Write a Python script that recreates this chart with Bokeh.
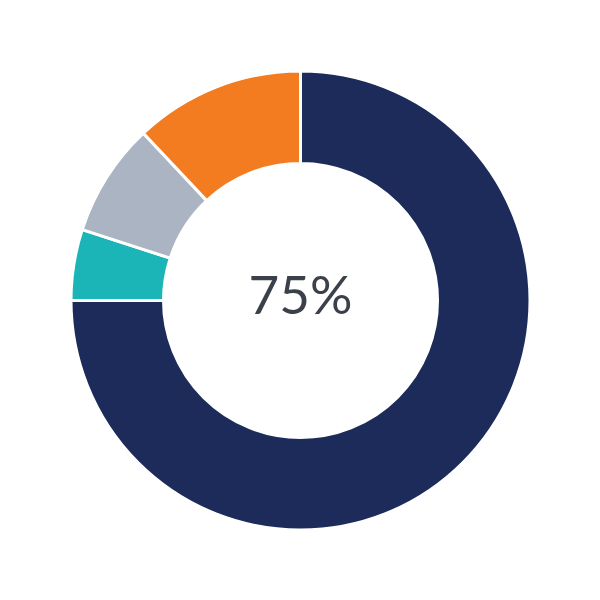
import math
from bokeh.plotting import figure
from bokeh.models import ColumnDataSource
from bokeh.core.properties import value
from bokeh.embed import file_html
from bokeh.resources import INLINE

categories = ["Main", "Teal", "Gray", "Orange"]
shares = [75, 5, 8, 12]
colors = ["#1c2b59", "#1cb5b7", "#aab4c2", "#f47c20"]
center_label = "75%"

starts, ends = [], []
acc = 0.0
for s in shares:
    a0 = math.pi / 2 - acc / 100 * 2 * math.pi
    acc += s
    a1 = math.pi / 2 - acc / 100 * 2 * math.pi
    starts.append(a0)
    ends.append(a1)

src = ColumnDataSource(dict(cat=categories, share=shares, color=colors,
                            start=starts, end=ends))

p = figure(width=584, height=584, x_range=(-300, 284), y_range=(-284, 300),
           output_backend="svg", toolbar_location=None, min_border=0)
p.axis.visible = False
p.grid.visible = False
p.outline_line_color = None
p.background_fill_color = "white"

p.annular_wedge(x=0, y=0, inner_radius=137, outer_radius=229.5,
                start_angle="start", end_angle="end", direction="clock",
                fill_color="color", line_color="white", line_width=3, source=src)

p.text(x=[0], y=[7], text=[center_label], text_align="center",
       text_baseline="alphabetic", text_font=value("Lato"),
       text_font_size="53px", text_color="#3b414b")

open("out.html", "w").write(file_html(p, INLINE))
